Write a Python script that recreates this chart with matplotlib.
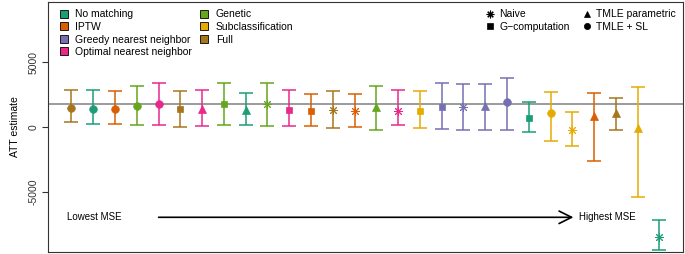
import numpy as np
import matplotlib.pyplot as plt
from matplotlib.lines import Line2D

plt.rcParams['font.family'] = ['Liberation Sans', 'DejaVu Sans']

# matching method / estimator for each interval, ordered by MSE
methods = ['Full', 'No matching', 'IPTW', 'Genetic', 'Optimal', 'Full', 'Optimal',
           'Genetic', 'No matching', 'Genetic', 'Optimal', 'IPTW', 'Full', 'IPTW',
           'Genetic', 'Optimal', 'Subclass', 'Greedy', 'Greedy', 'Greedy', 'Greedy',
           'No matching', 'Subclass', 'Subclass', 'IPTW', 'Full', 'Subclass', 'No matching']
estimators = ['SL', 'SL', 'SL', 'SL', 'SL', 'G', 'TP',
              'G', 'TP', 'N', 'G', 'G', 'N', 'N',
              'TP', 'N', 'G', 'G', 'N', 'TP', 'SL',
              'G', 'SL', 'N', 'TP', 'TP', 'TP', 'N']
est = [1492, 1415, 1391, 1623, 1803, 1391, 1391, 1803, 1314, 1803, 1340, 1211, 1340, 1211,
       1546, 1263, 1263, 1572, 1546, 1598, 1907, 696, 1108, -258, 850, 1057, -54, -8480]
lower = [363, 255, 209, 131, 131, 23, 100, 155, 155, 100, 100, 100, -54, 23,
         -232, 155, -77, -129, -258, -232, -206, -387, -1058, -1469, -2628, -232, -5411, -9531]
upper = [2837, 2860, 2760, 3193, 3378, 2806, 2860, 3424, 2651, 3378, 2860, 2574, 2806, 2551,
         3193, 2860, 2806, 3424, 3347, 3347, 3788, 1958, 2730, 1185, 2602, 2218, 3115, -7166]
true_att = 1794

method_labels = ['No matching', 'IPTW', 'Greedy nearest neighbor', 'Optimal nearest neighbor',
                 'Genetic', 'Subclassification', 'Full']
method_keys = ['No matching', 'IPTW', 'Greedy', 'Optimal', 'Genetic', 'Subclass', 'Full']
method_colors = ['#1B9E77', '#D95F02', '#7570B3', '#E7298A', '#66A61E', '#E6AB02', '#A6761D']
col = dict(zip(method_keys, method_colors))

est_labels = ['Naive', 'G\u2212computation', 'TMLE parametric', 'TMLE + SL']
est_keys = ['N', 'G', 'TP', 'SL']
star = (8, 2, 0)
mk = {'N': star, 'G': 's', 'TP': '^', 'SL': 'o'}
ms = {'N': 6.5, 'G': 5, 'TP': 5.5, 'SL': 5.5}

fig = plt.figure(figsize=(6.85, 2.54), dpi=100)
ax = fig.add_axes([0.070, 0.008, 0.927, 0.984])

x = np.arange(1, len(est) + 1)
ax.axhline(true_att, color='#808080', lw=1.1, zorder=1)
for i in range(len(est)):
    c = col[methods[i]]
    e = estimators[i]
    ax.errorbar(x[i], est[i], yerr=[[est[i] - lower[i]], [upper[i] - est[i]]],
                fmt='none', ecolor=c, elinewidth=1.1, capsize=5, capthick=1.1, zorder=2)
    ax.plot(x[i], est[i], marker=mk[e], color=c, markersize=ms[e],
            markeredgewidth=0.7 if e == 'N' else 0.5, linestyle='none', zorder=3)

ax.set_xlim(-0.08, 29.08)
ax.set_ylim(-9660, 9660)
ax.set_xticks([])
ax.set_yticks([-5000, 0, 5000])
ax.set_yticklabels(['-5000', '0', '5000'], rotation=90, va='center', fontsize=7.5,
                   color='#333333')
ax.tick_params(axis='y', length=4, width=0.8, pad=3, color='#333333')
ax.set_ylabel('ATT estimate', fontsize=7.5, labelpad=6)
for s in ax.spines.values():
    s.set_linewidth(0.8)
    s.set_color('#333333')

# MSE arrow
ax.annotate('', xy=(24.05, -6980), xytext=(5.0, -6980),
            arrowprops=dict(arrowstyle='->,head_length=0.9,head_width=0.45',
                            color='black', lw=1.2, shrinkA=0, shrinkB=0))
ax.text(0.8, -6980, 'Lowest MSE', fontsize=7, va='center', ha='left')
ax.text(24.3, -6980, 'Highest MSE', fontsize=7, va='center', ha='left')

h1 = [Line2D([], [], marker='s', color=c, markeredgecolor='black', markeredgewidth=0.6,
             markersize=6, linestyle='none') for c in method_colors]
leg1 = ax.legend(h1, method_labels, loc='upper left', ncol=2, frameon=False, fontsize=7.5,
                 bbox_to_anchor=(0.005, 1.0), handlelength=1.0, handletextpad=0.6,
                 labelspacing=0.25, columnspacing=0.7, borderaxespad=0.3)
ax.add_artist(leg1)

h2 = [Line2D([], [], marker=mk[k], color='black', markersize=ms[k] - 1,
             markeredgewidth=0.8 if k == 'N' else 0.5, linestyle='none') for k in est_keys]
ax.legend(h2, est_labels, loc='upper right', ncol=2, frameon=False, fontsize=7.5,
          bbox_to_anchor=(1.0, 1.0), handlelength=0.8, handletextpad=0.5,
          labelspacing=0.25, columnspacing=1.2, borderaxespad=0.3)

plt.savefig('out.png', dpi=100)
